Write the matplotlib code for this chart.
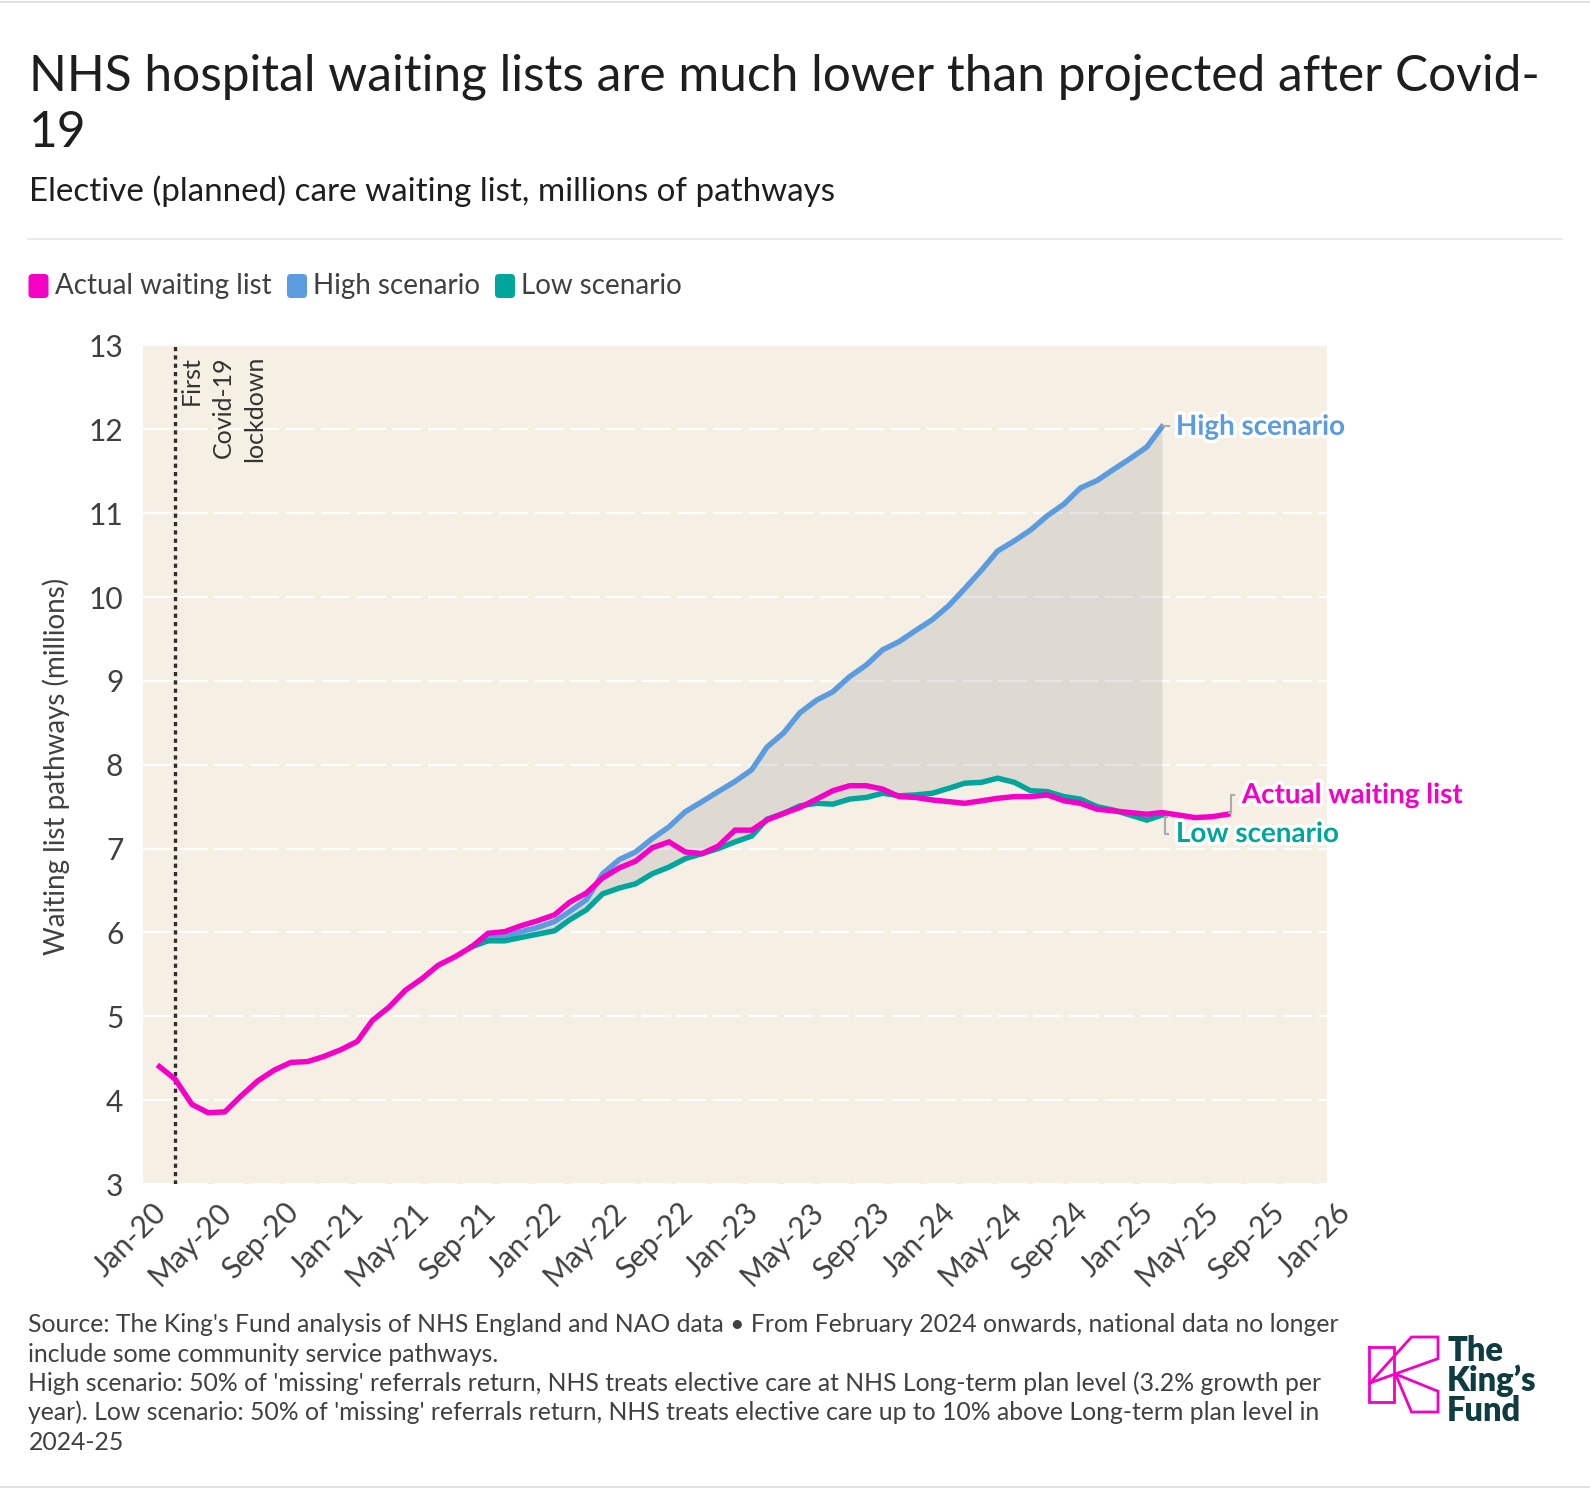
import numpy as np
import pandas as pd
import matplotlib
matplotlib.use('Agg')
import matplotlib.pyplot as plt
import matplotlib.transforms as mtransforms
import matplotlib.patheffects as pe
from matplotlib.patches import FancyBboxPatch
from matplotlib.lines import Line2D

plt.rcParams['font.family'] = ['Lato', 'DejaVu Sans']

# Actual RTT waiting list, millions, monthly from Feb 2020 to Jul 2025
actual_start = '2020-02-01'
actual = [4.40, 4.25, 3.95, 3.85, 3.86, 4.05, 4.23, 4.36, 4.45, 4.46, 4.52,
          4.60, 4.70, 4.95, 5.11, 5.31, 5.45, 5.61, 5.71, 5.83, 5.99, 6.01, 6.08,
          6.14, 6.21, 6.36, 6.47, 6.65, 6.77, 6.85, 7.01, 7.08, 6.96, 6.94, 7.03,
          7.22, 7.22, 7.34, 7.42, 7.49, 7.59, 7.69, 7.75, 7.75, 7.71, 7.62, 7.61,
          7.58, 7.56, 7.54, 7.57, 7.60, 7.62, 7.62, 7.64, 7.57, 7.54, 7.47, 7.45,
          7.43, 7.41, 7.43, 7.40, 7.37, 7.38, 7.41]

# Projections, monthly from Sep 2021 to Mar 2025
scenario_start = '2021-09-01'
high = [5.83, 5.93, 5.95, 6.01,
        6.06, 6.13, 6.25, 6.39, 6.70, 6.87, 6.96, 7.12, 7.26, 7.44, 7.56, 7.68,
        7.80, 7.94, 8.21, 8.38, 8.62, 8.77, 8.87, 9.05, 9.19, 9.37, 9.47, 9.60,
        9.73, 9.90, 10.10, 10.32, 10.55, 10.67, 10.80, 10.97, 11.11, 11.30, 11.39, 11.52,
        11.65, 11.79, 12.03]
low = [5.83, 5.90, 5.90, 5.94,
       5.98, 6.02, 6.15, 6.27, 6.46, 6.53, 6.58, 6.70, 6.78, 6.88, 6.94, 7.00,
       7.08, 7.15, 7.35, 7.42, 7.51, 7.54, 7.53, 7.59, 7.61, 7.66, 7.63, 7.64,
       7.66, 7.72, 7.78, 7.79, 7.84, 7.79, 7.69, 7.68, 7.62, 7.59, 7.50, 7.46,
       7.40, 7.34, 7.40]

lockdown = '2020-03-01'
y_ticks = list(range(3, 14))

footnote = [
    "Source: The King's Fund analysis of NHS England and NAO data \u2022 From February 2024 onwards, national data no longer",
    "include some community service pathways.",
    "High scenario: 50% of 'missing' referrals return, NHS treats elective care at NHS Long-term plan level (3.2% growth per",
    "year). Low scenario: 50% of 'missing' referrals return, NHS treats elective care up to 10% above Long-term plan level in",
    "2024-25",
]

PINK = '#f400c6'
BLUE = '#5b9be0'
TEAL = '#00a59b'
TXT = '#404040'

actual_dates = pd.date_range(actual_start, periods=len(actual), freq='MS')
scen_dates = pd.date_range(scenario_start, periods=len(high), freq='MS')

W, H = 1590, 1488
fig = plt.figure(figsize=(W / 100, H / 100), dpi=100)


def fx(x):
    return x / W


def fy(y):
    return 1 - y / H


ax = fig.add_axes([fx(142.7), fy(1184), (1327.3 - 142.7) / W, (1184 - 345.5) / H])
ax.set_facecolor('#f5efe4')
for s in ax.spines.values():
    s.set_visible(False)

ax.set_xlim(pd.Timestamp('2020-01-01'), pd.Timestamp('2026-01-01'))
ax.set_ylim(3, 13)
ax.set_yticks(y_ticks)
ax.set_yticklabels([str(v) for v in y_ticks], fontsize=21.5, color=TXT)
xt = pd.date_range('2020-01-01', '2026-01-01', freq='4MS')
ax.set_xticks(xt)
ax.set_xticklabels([d.strftime('%b-%y') for d in xt], fontsize=21.5, color=TXT,
                   rotation=45, ha='right', va='top', rotation_mode='anchor')
ax.tick_params(length=0)
ax.tick_params(axis='y', pad=14)
ax.tick_params(axis='x', pad=10)
for lab in ax.get_xticklabels():
    lab.set_transform(lab.get_transform() + mtransforms.ScaledTranslation(0.09, 0, fig.dpi_scale_trans))

for v in y_ticks:
    ax.axhline(v, color='white', lw=1.5, linestyle=(0, (13.9, 3.2)), zorder=1)

ax.fill_between(scen_dates, low, high, color='#a0a0a0', alpha=0.27, lw=0, zorder=2)
ax.axvline(pd.Timestamp(lockdown), color='#2e2e2e', lw=2.4, linestyle=(0, (1.25, 1.25)), zorder=3)

ax.plot(scen_dates, high, color=BLUE, lw=3.9, zorder=4, solid_joinstyle='miter')
ax.plot(scen_dates, low, color=TEAL, lw=3.9, zorder=5, solid_joinstyle='miter')
ax.plot(actual_dates, actual, color=PINK, lw=3.9, zorder=6, solid_joinstyle='miter')

fig.text(fx(180), fy(356), 'First\nCovid-19\nlockdown', rotation=90, ha='left', va='top',
         multialignment='right', fontsize=18, color='#333333', linespacing=1.45)

# direct labels
halo = [pe.withStroke(linewidth=5, foreground='white')]
ident = mtransforms.IdentityTransform()


def end_px(date, val):
    return ax.transData.transform((matplotlib.dates.date2num(date), val))


hx, hy = end_px(scen_dates[-1], high[-1])
fig.add_artist(Line2D([hx + 1, hx + 7], [hy + 1, hy + 1], color='#aaaaaa', lw=1.5, transform=ident))
fig.text(hx + 14, hy, 'High scenario', transform=ident, ha='left', va='center',
         fontsize=20, fontweight='bold', color=BLUE, path_effects=halo)

lx, ly = end_px(scen_dates[-1], low[-1])
fig.add_artist(Line2D([lx + 5, lx + 3, lx + 3, lx + 6], [ly - 2, ly - 2, ly - 19, ly - 19],
                      color='#aaaaaa', lw=1.5, transform=ident))
fig.text(lx + 14, ly - 19, 'Low scenario', transform=ident, ha='left', va='center',
         fontsize=20, fontweight='bold', color=TEAL, path_effects=halo)

axx, ayy = end_px(actual_dates[-1], actual[-1])
fig.add_artist(Line2D([axx + 1, axx + 3, axx + 3, axx + 6], [ayy + 1, ayy + 1, ayy + 19, ayy + 19],
                      color='#aaaaaa', lw=1.5, transform=ident))
fig.text(axx + 14, ayy + 19, 'Actual waiting list', transform=ident, ha='left', va='center',
         fontsize=20, fontweight='bold', color=PINK, path_effects=halo)

# titles
fig.text(fx(29), fy(91), 'NHS hospital waiting lists are much lower than projected after Covid-',
         fontsize=35.7, color='#1e1e1e', va='baseline')
fig.text(fx(29), fy(147), '19', fontsize=35.7, color='#1e1e1e', va='baseline')
fig.text(fx(29), fy(201), 'Elective (planned) care waiting list, millions of pathways',
         fontsize=23.9, color='#1e1e1e', va='baseline')
fig.add_artist(Line2D([fx(28), fx(1562)], [fy(239), fy(239)], color='#e8e8e8', lw=1.2))
fig.add_artist(Line2D([0, 1], [fy(1.5), fy(1.5)], color='#dcdcdc', lw=1.2))
fig.add_artist(Line2D([0, 1], [fy(1486.5), fy(1486.5)], color='#dcdcdc', lw=1.2))

# legend
for xs, xt_, lab, col in [(28.5, 55, 'Actual waiting list', PINK),
                          (287, 313, 'High scenario', BLUE),
                          (495, 521, 'Low scenario', TEAL)]:
    fig.add_artist(FancyBboxPatch((xs, H - 298), 20, 24, boxstyle='round,pad=0,rounding_size=4',
                                  fc=col, ec='none', transform=ident))
    fig.text(fx(xt_), fy(286), lab, fontsize=20, color=TXT, va='center')

fig.text(fx(56), fy(766), 'Waiting list pathways (millions)', rotation=90, ha='center', va='center',
         fontsize=20, color=TXT)

# footnote
for i, line in enumerate(footnote):
    fig.text(fx(28.5), fy(1332 + i * 29.5), line, fontsize=17.8, color=TXT, va='baseline')

# logo


def kp(pts):
    xs = [fx(1369 + (p[0] - 90) / 203 * 69) for p in pts]
    ys = [fy(1337 + (p[1] - 82) / 253 * 75) for p in pts]
    return xs, ys


for shape in [[(93, 237), (215, 82), (293, 82), (293, 155), (93, 237)],
              [(168, 207), (293, 265), (293, 335), (215, 335), (168, 207)],
              [(90, 117), (165, 117), (165, 300), (90, 300), (90, 117)]]:
    xs, ys = kp(shape)
    fig.add_artist(Line2D(xs, ys, color=PINK, lw=2, solid_joinstyle='miter'))
for i, word in enumerate(['The', "King\u2019s", 'Fund']):
    fig.text(fx(1447), fy(1361 + i * 30), word, fontsize=23.5, fontweight='heavy',
             color='#0e3c40', va='baseline')

fig.savefig('out.png', dpi=100, facecolor='white')
